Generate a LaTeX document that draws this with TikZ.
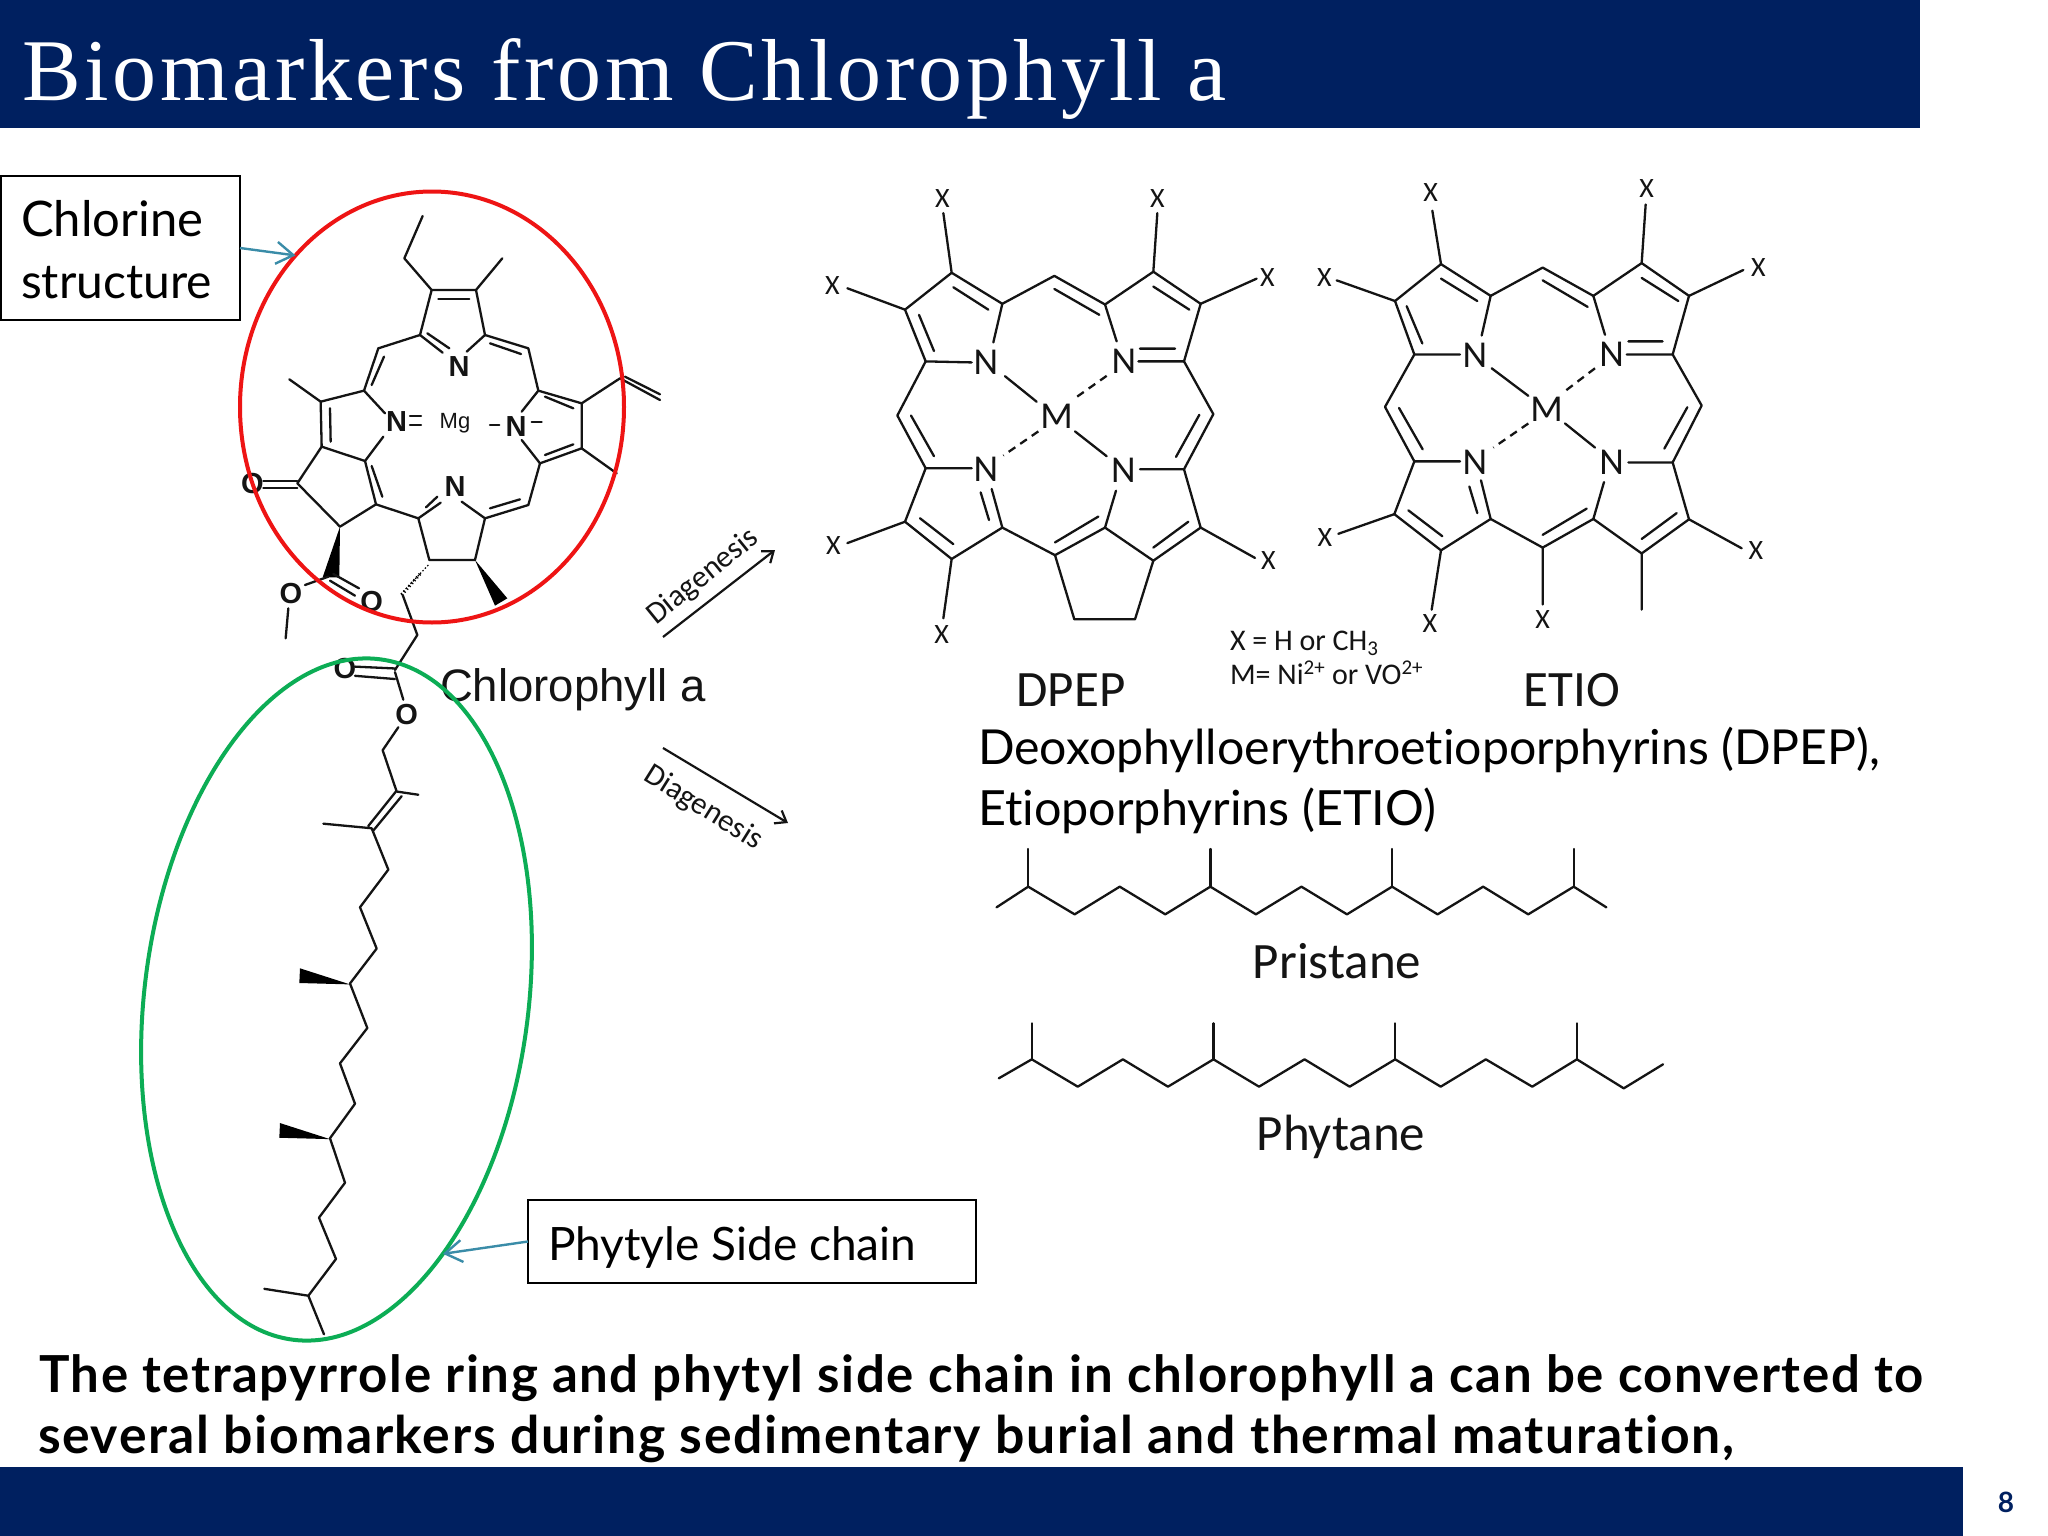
\documentclass[tikz,border=0pt]{standalone}
\usepackage{fontspec}
\usetikzlibrary{arrows.meta,shapes.geometric}
\newfontfamily\titlef[LetterSpace=4.2]{Liberation Serif}
\newfontfamily\bodyf[Ligatures=NoCommon]{Lato}
\newfontfamily\boldf[LetterSpace=3.2,Ligatures=NoCommon]{Lato}
\newfontfamily\arialf{Liberation Sans}
\newfontfamily\calif{Carlito}
\newcommand\fsz[1]{\fontsize{#1}{#1}\selectfont}
\definecolor{navy}{HTML}{002060}
\definecolor{teal1}{HTML}{3A8CA8}
\definecolor{redl}{HTML}{EE1414}
\definecolor{greenl}{HTML}{0CAD55}
\tikzset{
  x=1pt,y=-1pt,
  bond/.style={draw=black!92,line width=2.3pt,line join=round,line cap=round},
  txt/.style={inner sep=0pt,outer sep=0pt,anchor=base west,text=black},
  ctr/.style={inner sep=0pt,outer sep=0pt,anchor=center,text=black!92},
  aboldl/.style={ctr,font=\arialf\bfseries\fsz{29}},
  xlab/.style={ctr,font=\calif\fsz{28}},
  nlab/.style={ctr,font=\calif\fsz{38}},
  lab/.style={ctr,font=\calif\fsz{51}},
  tagbox/.style={draw=black,line width=2pt,fill=white,inner sep=0pt,outer sep=0pt,minimum width=0pt},
  callout/.style={draw=teal1,line width=2.4pt,-{Straight Barb[length=17pt,width=22pt,line width=2.4pt]}},
  react/.style={draw=black!92,line width=2.2pt,-{Straight Barb[length=10pt,width=15pt,line width=2.2pt]}},
}
\begin{document}
\begin{tikzpicture}
\useasboundingbox (0,0) rectangle (2048,1536);
\fill[white] (0,0) rectangle (2048,1536);
% bands
\fill[navy] (0,0) rectangle (1920,128);
\fill[navy] (0,1467) rectangle (1963,1536);
\node[txt,text=white,font=\titlef\fsz{88}] (title) at (22,101) {Biomarkers from Chlorophyll a};
\node[ctr,text=navy,font=\bodyf\bfseries\fsz{28}] (pagenum) at (2006,1502) {8};

% ---------- chlorophyll head
\begin{scope}[shift={(220,180)},x=0.33333pt,y=-0.33333pt]
\draw[bond] (608,108)--(553,235)--(635,330)--(768,330)--(847,235);
\draw[bond] (655,358)--(748,358);
\draw[bond] (635,330)--(600,465)--(475,505)--(432,632)--(302,665)--(305,800)--(435,843)--(468,973)--(595,1015)--(628,1140)--(765,1140)--(795,1015)--(925,975)--(960,850)--(1085,805)--(1085,670)--(955,632)--(925,505)--(795,465)--(768,330);
\draw[bond] (600,465)--(668,518) (622,460)--(688,505);
\draw[bond] (795,465)--(740,515);
\draw[bond] (492,530)--(455,615) (810,490)--(903,522);
\draw[bond] (432,632)--(495,700) (302,665)--(208,598) (330,685)--(332,785);
\draw[bond] (435,843)--(490,770);
\draw[bond] (305,800)--(232,910)--(360,1040)--(468,973);
\draw[bond] (455,858)--(487,950);
\draw[bond] (232,903)--(130,903) (232,925)--(130,925);
\fill[black] (360,1040)--(308,1192)--(358,1192)--cycle;
\draw[bond] (325,1190)--(255,1215) (205,1285)--(197,1375);
\draw[bond] (340,1182)--(417,1225) (330,1202)--(405,1247);
\draw[bond] (595,1015)--(662,968) (618,982)--(652,950);
\draw[bond] (795,1015)--(725,965);
\fill[black] (765,1140)--(862,1255)--(825,1277)--cycle;
\draw[line width=1.2pt,black,dash pattern=on 1.5pt off 2pt] (625,1155)--(540,1245);
\draw[line width=3pt,black,dash pattern=on 1.2pt off 2.6pt] (600,1182)--(545,1245);
\draw[bond] (548,1245)--(592,1365)--(525,1470);
\draw[bond] (810,985)--(900,958) (975,825)--(1060,793) (975,650)--(1060,685);
\draw[bond] (955,632)--(905,695) (960,850)--(905,780);
\draw[bond] (1085,805)--(1190,880) (1085,670)--(1200,595)--(1320,660) (1215,590)--(1320,643);
\node[aboldl] (o1) at (97,910) {O};
\node[aboldl] (o2) at (213,1240) {O};
\node[aboldl] (o3) at (455,1265) {O};
\node[aboldl] (nt) at (717,560) {N};
\node[aboldl] (nl) at (530,725) {N};
\node[aboldl] (nb) at (705,920) {N};
\node[aboldl] (nr) at (888,740) {N};
\draw[bond] (570,708)--(603,708) (570,735)--(603,735) (810,735)--(838,735) (935,727)--(965,727);
\node[ctr,font=\arialf\fsz{22}] (mg) at (705,730) {Mg};
\end{scope}

% ---------- phytyl chain
\begin{scope}[shift={(240,640)},x=0.33333pt,y=-0.45918pt]
\draw[bond] (465,70)--(490,130) (475,190)--(428,240)--(470,330) (385,405)--(470,328) (400,415)--(485,340)
 (470,330)--(535,337) (395,410)--(250,400)
 (395,410)--(445,500)--(360,582)--(410,672)--(330,748)--(382,845)--(300,922)--(345,1010)--(270,1085)--(315,1182)--(237,1258)--(288,1348)--(205,1428)--(252,1512)
 (205,1428)--(73,1413);
\draw[bond] (345,58)--(465,62) (345,78)--(465,85);
\fill[black] (330,750)--(180,715)--(178,747)--cycle;
\fill[black] (270,1087)--(120,1052)--(118,1084)--cycle;
\node[aboldl] (o4) at (315,62) {O};
\node[aboldl] (o5) at (500,162) {O};
\end{scope}

% ---------- DPEP
\begin{scope}[shift={(810,170)},x=0.33333pt,y=-0.34483pt]
\draw[bond] (550,500)--(577,388)--(425,298)--(285,405)--(347,555)--(485,558);
\draw[bond] (430,340)--(535,405) (327,420)--(372,525);
\draw[bond] (577,388)--(733,307)--(885,390)--(920,497) (733,345)--(868,420);
\draw[bond] (885,390)--(1030,295)--(1172,388)--(1122,555)--(985,555) (1030,338)--(1138,405) (990,518)--(1095,518);
\draw[bond] (1122,555)--(1210,708)--(1122,868)--(990,868) (1168,710)--(1098,832);
\draw[bond] (1122,868)--(1172,1037)--(1030,1133)--(885,1037)--(918,930) (1135,1020)--(1030,1095);
\draw[bond] (1030,1133)--(975,1303)--(793,1303)--(735,1117)--(885,1037) (735,1080)--(865,1005);
\draw[bond] (485,865)--(347,865)--(285,1020)--(425,1128)--(577,1037)--(545,925) (330,1010)--(430,1085) (512,935)--(537,1015);
\draw[bond] (577,1037)--(735,1117);
\draw[bond] (347,555)--(262,712)--(347,865) (303,712)--(372,830);
\draw[bond] (425,298)--(400,125) (285,405)--(112,343) (1030,295)--(1042,125) (1172,388)--(1340,315) (1172,1037)--(1335,1125) (285,1020)--(112,1082) (425,1128)--(400,1300);
\draw[bond] (585,598)--(680,672) (795,758)--(890,830);
\draw[bond,dash pattern=on 8pt off 6pt,line cap=butt] (890,597)--(790,665) (685,758)--(580,828);
\node[nlab] (dn1) at (528,558) {N};
\node[nlab] (dn2) at (942,555) {N};
\node[nlab] (dn3) at (528,868) {N};
\node[nlab] (dn4) at (940,870) {N};
\node[nlab] (dm) at (740,715) {M};
\node[xlab] (dx1) at (397,82) {X};
\node[xlab] (dx2) at (67,335) {X};
\node[xlab] (dx3) at (1042,82) {X};
\node[xlab] (dx4) at (1372,312) {X};
\node[xlab] (dx5) at (1375,1133) {X};
\node[xlab] (dx6) at (70,1090) {X};
\node[xlab] (dx7) at (395,1348) {X};
\end{scope}

% ---------- ETIO
\begin{scope}[shift={(1280,170)},x=0.33333pt,y=-0.34483pt]
\draw[bond] (605,480)--(632,365)--(483,273)--(345,380)--(403,535)--(540,535);
\draw[bond] (483,315)--(592,380) (380,395)--(427,503);
\draw[bond] (632,365)--(788,283)--(940,365)--(975,478) (788,320)--(923,397);
\draw[bond] (940,365)--(1085,270)--(1227,365)--(1178,535)--(1040,535) (1085,313)--(1195,380) (1045,497)--(1148,497);
\draw[bond] (1178,535)--(1265,683)--(1178,848)--(1045,848) (1222,688)--(1153,808);
\draw[bond] (1178,848)--(1227,1013)--(1085,1112)--(940,1012)--(972,905) (1190,995)--(1085,1070);
\draw[bond] (940,1012)--(788,1095)--(632,1012) (920,982)--(788,1058);
\draw[bond] (540,845)--(403,845)--(343,998)--(483,1103)--(632,1012)--(603,900) (385,987)--(487,1062) (568,918)--(592,995);
\draw[bond] (403,535)--(315,687)--(403,845) (357,690)--(428,810);
\draw[bond] (483,273)--(457,118) (345,380)--(170,320) (1085,270)--(1097,100) (1227,365)--(1390,290) (1227,1013)--(1385,1097) (1085,1112)--(1085,1275) (788,1095)--(788,1260) (343,998)--(175,1055) (483,1103)--(455,1275);
\draw[bond] (635,575)--(745,655) (855,735)--(945,805);
\draw[bond,dash pattern=on 8pt off 6pt,line cap=butt] (945,575)--(850,645) (745,735)--(640,805);
\node[nlab] (en1) at (585,538) {N};
\node[nlab] (en2) at (995,535) {N};
\node[nlab] (en3) at (585,848) {N};
\node[nlab] (en4) at (995,848) {N};
\node[nlab] (em) at (800,693) {M};
\node[xlab] (ex1) at (452,65) {X};
\node[xlab] (ex2) at (133,313) {X};
\node[xlab] (ex3) at (1100,55) {X};
\node[xlab] (ex4) at (1435,283) {X};
\node[xlab] (ex5) at (1428,1103) {X};
\node[xlab] (ex6) at (135,1065) {X};
\node[xlab] (ex7) at (450,1315) {X};
\node[xlab] (ex8) at (788,1305) {X};
\end{scope}

% ---------- pristane / phytane
\begin{scope}[shift={(980,830)},x=0.44643pt,y=-0.33333pt]
\draw[bond] (37,232)--(108,170)--(212,253)--(313,170)--(415,253)--(516,170)--(618,253)--(720,170)--(822,253)--(923,170)--(1025,253)--(1127,170)--(1228,253)--(1330,170)--(1403,232);
\draw[bond] (108,170)--(108,57) (516,170)--(516,57) (923,170)--(923,57) (1330,170)--(1330,57);
\draw[bond] (42,745)--(116,688)--(219,770)--(320,688)--(421,770)--(523,688)--(625,770)--(727,688)--(828,770)--(930,688)--(1032,770)--(1133,688)--(1237,770)--(1337,688)--(1442,775)--(1530,703);
\draw[bond] (116,688)--(116,580) (523,688)--(523,580) (930,688)--(930,580) (1337,688)--(1337,580);
\end{scope}

% ---------- labels
\node[lab] (dpep) at (1071,690) {DPEP};
\node[lab] (etio) at (1572,690) {ETIO};
\node[lab] (pristane) at (1337,961) {Pristane};
\node[lab] (phytane) at (1341,1137) {Phytane};
\node[txt,text=black!92,font=\calif\fsz{30}] (xeq) at (1230,650) {X = H or CH\textsubscript{3}};
\node[txt,text=black!92,font=\calif\fsz{30}] (meq) at (1230,684) {M= Ni\textsuperscript{2+} or VO\textsuperscript{2+}};
\node[txt,text=black!92,font=\arialf\fsz{45.5}] (chla) at (440,701) {Chlorophyll a};

% ---------- diagenesis arrows
\coordinate (a1s) at (663,637);
\coordinate (a1e) at (775,550);
\coordinate (a2s) at (663,748);
\coordinate (a2e) at (788,823);
\draw[react] (a1s)--(a1e);
\draw[react] (a2s)--(a2e);
\node[ctr,font=\calif\fsz{31},rotate=39] (dg1) at (703,577) {Diagenesis};
\node[ctr,font=\calif\fsz{31},rotate=-32] (dg2) at (703,808) {Diagenesis};

% ---------- ellipses
\node[ellipse,draw=redl,line width=4pt,inner sep=0pt,outer sep=0pt,minimum width=384pt,minimum height=431pt] (rede) at (432,407) {};
\node[ellipse,draw=greenl,line width=4pt,inner sep=0pt,outer sep=0pt,minimum width=384pt,minimum height=686pt,rotate=-7.3] (greene) at (336.5,999.5) {};

% ---------- tag boxes
\node[tagbox,minimum width=239pt,minimum height=144pt,anchor=north west] (chlbox) at (1,176) {};
\node[txt,font=\bodyf\fsz{49}] (chl1) at (21,236) {Chlorine};
\node[txt,font=\bodyf\fsz{48}] (chl2) at (21,298) {structure};
\node[tagbox,minimum width=448pt,minimum height=83pt,anchor=north west] (phybox) at (528,1200) {};
\node[txt,font=\bodyf\fsz{46}] (phy) at (548,1260) {Phytyle Side chain};
\draw[callout] (chlbox.east)--(rede.132);
\draw[callout] (phybox.west)--(greene.-60.3);

% ---------- body text
\node[txt,font=\bodyf\fsz{48.2}] (deoxo) at (978,764) {Deoxophylloerythroetioporphyrins (DPEP),};
\node[txt,font=\bodyf\fsz{48.5}] (etiop) at (978,825) {Etioporphyrins (ETIO)};
\node[txt,font=\boldf\bfseries\fsz{51}] (concl1) at (39,1392) {The tetrapyrrole ring and phytyl side chain in chlorophyll a can be converted to};
\node[txt,font=\boldf\bfseries\fsz{51.7}] (concl2) at (38,1453) {several biomarkers during sedimentary burial and thermal maturation,};
\end{tikzpicture}
\end{document}
